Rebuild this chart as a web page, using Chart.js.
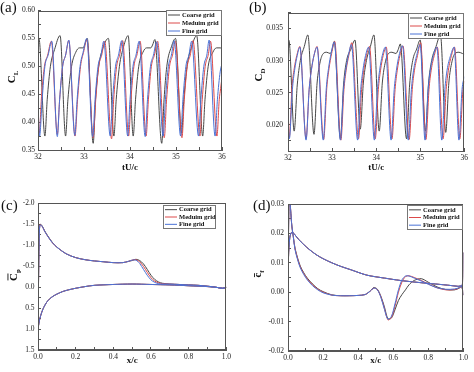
<!DOCTYPE html>
<html>
<head>
<meta charset="utf-8">
<script src="https://cdn.jsdelivr.net/npm/chart.js@4.4.1/dist/chart.umd.min.js"></script>
<style>
  html, body { margin: 0; padding: 0; background: #fff; }
  #fig { position: relative; width: 474px; height: 372px; overflow: hidden; font-family: "Liberation Serif", serif; }
  .panel { position: absolute; width: 237px; height: 186px; }
  .tag { position: absolute; font-size: 15px; line-height: 15px; color: #111; }
</style>
</head>
<body>
<div id="fig">
  <div class="panel" style="left:0;top:0"><canvas id="chartA"></canvas></div>
  <div class="panel" style="left:237px;top:0"><canvas id="chartB"></canvas></div>
  <div class="panel" style="left:0;top:186px"><canvas id="chartC"></canvas></div>
  <div class="panel" style="left:237px;top:186px"><canvas id="chartD"></canvas></div>
  <div class="tag" style="left:0;top:0">(a)</div>
  <div class="tag" style="left:249px;top:0">(b)</div>
  <div class="tag" style="left:1px;top:198px">(c)</div>
  <div class="tag" style="left:253px;top:198px">(d)</div>
</div>
<script>
// series names (legend order) - "Meduim" kept as in the figure
const seriesNames = ['Coarse grid', 'Meduim grid', 'Fine grid'];

// (a) lift coefficient vs tU/c
const clCoarseT = [32.00, 32.02, 32.15, 32.20, 32.27, 32.36, 32.48, 32.60, 32.65, 32.73, 32.82, 32.90, 32.98, 33.02, 33.07, 33.20, 33.25, 33.32, 33.42, 33.53, 33.65, 33.70, 33.77, 33.86, 33.96, 34.07, 34.12, 34.19, 34.28, 34.36, 34.45, 34.49, 34.54, 34.69, 34.74, 34.80, 34.90, 34.99, 35.12, 35.17, 35.24, 35.34, 35.45, 35.58, 35.63, 35.70, 35.80, 35.88, 35.96, 36.00];
const clCoarse = [0.545, 0.55, 0.375, 0.44, 0.50, 0.53, 0.555, 0.375, 0.44, 0.50, 0.525, 0.533, 0.533, 0.54, 0.55, 0.362, 0.44, 0.50, 0.535, 0.55, 0.375, 0.44, 0.50, 0.535, 0.555, 0.375, 0.44, 0.50, 0.525, 0.533, 0.533, 0.538, 0.548, 0.362, 0.44, 0.50, 0.535, 0.55, 0.38, 0.44, 0.50, 0.535, 0.555, 0.375, 0.44, 0.50, 0.525, 0.533, 0.533, 0.532];
const clMediumT = [32.00, 32.025, 32.08, 32.14, 32.21, 32.29, 32.42, 32.47, 32.535, 32.60, 32.67, 32.805, 32.86, 32.925, 32.99, 33.065, 33.20, 33.255, 33.32, 33.385, 33.45, 33.60, 33.645, 33.71, 33.775, 33.84, 33.97, 34.02, 34.085, 34.15, 34.22, 34.35, 34.40, 34.465, 34.53, 34.60, 34.745, 34.795, 34.86, 34.925, 34.985, 35.13, 35.18, 35.245, 35.31, 35.37, 35.52, 35.57, 35.635, 35.70, 35.75, 35.89, 35.94, 35.97, 36.00];
const clMedium = [0.415, 0.38, 0.45, 0.50, 0.52, 0.545, 0.378, 0.44, 0.50, 0.52, 0.546, 0.375, 0.44, 0.50, 0.525, 0.548, 0.372, 0.44, 0.50, 0.52, 0.545, 0.37, 0.44, 0.50, 0.52, 0.546, 0.375, 0.44, 0.50, 0.52, 0.545, 0.375, 0.44, 0.50, 0.52, 0.545, 0.372, 0.44, 0.50, 0.52, 0.545, 0.372, 0.44, 0.50, 0.52, 0.546, 0.375, 0.44, 0.50, 0.52, 0.545, 0.375, 0.44, 0.46, 0.48];
const clFineT = [32.00, 32.035, 32.09, 32.15, 32.22, 32.30, 32.42, 32.47, 32.535, 32.60, 32.67, 32.80, 32.85, 32.915, 32.98, 33.06, 33.19, 33.24, 33.305, 33.37, 33.43, 33.57, 33.62, 33.685, 33.75, 33.82, 33.95, 34.00, 34.065, 34.13, 34.20, 34.33, 34.38, 34.445, 34.51, 34.58, 34.72, 34.77, 34.835, 34.90, 34.96, 35.10, 35.15, 35.215, 35.28, 35.34, 35.49, 35.54, 35.605, 35.67, 35.72, 35.85, 35.90, 35.96, 36.00];
const clFine = [0.43, 0.375, 0.44, 0.50, 0.52, 0.545, 0.374, 0.44, 0.50, 0.52, 0.547, 0.376, 0.44, 0.50, 0.525, 0.55, 0.374, 0.44, 0.50, 0.52, 0.545, 0.375, 0.44, 0.50, 0.52, 0.546, 0.375, 0.44, 0.50, 0.52, 0.545, 0.374, 0.44, 0.50, 0.52, 0.544, 0.375, 0.44, 0.50, 0.52, 0.546, 0.375, 0.44, 0.50, 0.52, 0.545, 0.375, 0.44, 0.50, 0.52, 0.547, 0.375, 0.44, 0.49, 0.505];

// (b) drag coefficient vs tU/c
const cdCoarseT = [32.00, 32.02, 32.14, 32.21, 32.28, 32.37, 32.45, 32.59, 32.66, 32.73, 32.80, 32.88, 32.96, 33.00, 33.05, 33.19, 33.26, 33.33, 33.43, 33.52, 33.64, 33.71, 33.78, 33.87, 33.95, 34.07, 34.14, 34.21, 34.28, 34.36, 34.45, 34.50, 34.55, 34.69, 34.76, 34.83, 34.92, 35.00, 35.12, 35.19, 35.26, 35.36, 35.46, 35.58, 35.65, 35.72, 35.79, 35.88, 35.96, 36.00];
const cdCoarse = [0.0330, 0.0332, 0.0190, 0.0262, 0.0300, 0.0322, 0.0340, 0.0185, 0.0265, 0.0298, 0.0311, 0.0313, 0.0311, 0.0317, 0.0330, 0.0178, 0.0262, 0.0300, 0.0318, 0.0332, 0.0193, 0.0265, 0.0300, 0.0322, 0.0340, 0.0190, 0.0265, 0.0298, 0.0311, 0.0313, 0.0311, 0.0317, 0.0326, 0.0178, 0.0262, 0.0300, 0.0318, 0.0332, 0.0190, 0.0265, 0.0300, 0.0322, 0.0340, 0.0188, 0.0265, 0.0298, 0.0311, 0.0313, 0.0311, 0.0310];
const cdMediumT = [32.00, 32.03, 32.09, 32.14, 32.20, 32.27, 32.41, 32.48, 32.53, 32.59, 32.66, 32.81, 32.88, 32.93, 32.99, 33.06, 33.20, 33.27, 33.32, 33.38, 33.45, 33.60, 33.67, 33.72, 33.78, 33.85, 33.98, 34.05, 34.10, 34.16, 34.23, 34.36, 34.43, 34.48, 34.54, 34.61, 34.75, 34.82, 34.87, 34.94, 35.01, 35.13, 35.20, 35.25, 35.32, 35.39, 35.52, 35.59, 35.64, 35.71, 35.78, 35.90, 35.97, 36.00];
const cdMedium = [0.0225, 0.0180, 0.0258, 0.0287, 0.0308, 0.0322, 0.0178, 0.0255, 0.0285, 0.0308, 0.0322, 0.0177, 0.0257, 0.0287, 0.0311, 0.0330, 0.0176, 0.0255, 0.0285, 0.0308, 0.0328, 0.0178, 0.0255, 0.0285, 0.0308, 0.0322, 0.0178, 0.0255, 0.0285, 0.0308, 0.0321, 0.0178, 0.0255, 0.0285, 0.0308, 0.0323, 0.0177, 0.0255, 0.0285, 0.0308, 0.0328, 0.0177, 0.0255, 0.0285, 0.0308, 0.0321, 0.0178, 0.0255, 0.0285, 0.0308, 0.0321, 0.0178, 0.0255, 0.0268];
const cdFineT = [32.00, 32.03, 32.10, 32.15, 32.21, 32.27, 32.41, 32.48, 32.53, 32.59, 32.66, 32.80, 32.87, 32.92, 32.98, 33.05, 33.19, 33.26, 33.31, 33.37, 33.44, 33.58, 33.65, 33.70, 33.76, 33.83, 33.96, 34.03, 34.08, 34.14, 34.21, 34.34, 34.41, 34.46, 34.52, 34.60, 34.73, 34.80, 34.85, 34.92, 35.00, 35.11, 35.18, 35.23, 35.30, 35.38, 35.49, 35.56, 35.61, 35.69, 35.77, 35.88, 35.95, 36.00];
const cdFine = [0.0200, 0.0178, 0.0255, 0.0285, 0.0308, 0.0321, 0.0176, 0.0255, 0.0285, 0.0308, 0.0321, 0.0176, 0.0258, 0.0288, 0.0312, 0.0329, 0.0176, 0.0255, 0.0285, 0.0308, 0.0325, 0.0176, 0.0255, 0.0285, 0.0308, 0.0321, 0.0176, 0.0255, 0.0285, 0.0308, 0.0321, 0.0176, 0.0255, 0.0285, 0.0308, 0.0323, 0.0176, 0.0255, 0.0285, 0.0308, 0.0325, 0.0176, 0.0255, 0.0285, 0.0308, 0.0321, 0.0176, 0.0255, 0.0285, 0.0308, 0.0321, 0.0176, 0.0255, 0.0275];

// (c) mean pressure coefficient vs x/c, suction side then pressure side
const cpUpperX = [0, 0.003, 0.006, 0.01, 0.02, 0.035, 0.05, 0.075, 0.1, 0.15, 0.2, 0.25, 0.3, 0.35, 0.4, 0.45, 0.48, 0.5, 0.52, 0.54, 0.56, 0.58, 0.6, 0.62, 0.64, 0.66, 0.7, 0.75, 0.8, 0.85, 0.9, 0.95, 0.98, 1.0];
const cpUpperCoarse = [1.0, -0.2, -1.05, -1.49, -1.47, -1.34, -1.23, -1.07, -0.95, -0.79, -0.70, -0.65, -0.62, -0.60, -0.58, -0.58, -0.61, -0.63, -0.66, -0.63, -0.55, -0.42, -0.28, -0.18, -0.12, -0.09, -0.07, -0.06, -0.05, -0.04, -0.02, 0.01, 0.03, 0.01];
const cpUpperMedium = [1.0, -0.2, -1.05, -1.48, -1.46, -1.33, -1.22, -1.06, -0.95, -0.79, -0.70, -0.65, -0.62, -0.60, -0.58, -0.58, -0.61, -0.64, -0.65, -0.60, -0.49, -0.35, -0.22, -0.14, -0.10, -0.08, -0.07, -0.06, -0.05, -0.04, -0.02, 0.01, 0.03, 0.01];
const cpUpperFine = [1.0, -0.2, -1.05, -1.47, -1.46, -1.33, -1.22, -1.06, -0.95, -0.79, -0.70, -0.65, -0.62, -0.60, -0.58, -0.58, -0.61, -0.64, -0.64, -0.56, -0.42, -0.28, -0.17, -0.11, -0.08, -0.07, -0.07, -0.06, -0.05, -0.04, -0.02, 0.01, 0.03, 0.01];
const cpLowerX = [0, 0.005, 0.01, 0.02, 0.03, 0.045, 0.06, 0.08, 0.1, 0.13, 0.16, 0.2, 0.25, 0.3, 0.4, 0.5, 0.6, 0.7, 0.8, 0.9, 0.95, 0.98, 1.0];
const cpLower = [1.0, 0.86, 0.75, 0.60, 0.49, 0.37, 0.29, 0.22, 0.17, 0.11, 0.07, 0.03, -0.01, -0.04, -0.06, -0.07, -0.06, -0.05, -0.03, -0.01, 0.01, 0.03, 0.01];

// (d) mean skin friction coefficient vs x/c
const cfUpperX = [0, 0.004, 0.008, 0.015, 0.022, 0.03, 0.04, 0.055, 0.07, 0.09, 0.11, 0.14, 0.17, 0.2, 0.25, 0.3, 0.35, 0.4, 0.44, 0.47, 0.49, 0.51, 0.53, 0.55, 0.57, 0.59, 0.61, 0.63, 0.65, 0.67, 0.69, 0.72, 0.76, 0.8, 0.85, 0.9, 0.95, 0.98, 0.995, 1.0];
const cfUpperCoarse = [0.0, 0.025, 0.034, 0.028, 0.0225, 0.019, 0.0150, 0.0116, 0.0089, 0.0066, 0.0048, 0.0028, 0.0012, 0.0002, -0.0009, -0.0012, -0.0012, -0.0011, -0.0008, 0.0005, 0.0016, 0.0010, -0.0014, -0.0050, -0.0090, -0.0088, -0.0060, -0.0028, -0.0008, 0.0008, 0.0025, 0.0040, 0.0046, 0.0034, 0.0018, 0.0009, 0.0008, 0.0015, 0.0026, 0.0135];
const cfUpperMedium = [0.0, 0.025, 0.034, 0.028, 0.0225, 0.019, 0.0148, 0.0113, 0.0086, 0.0063, 0.0045, 0.0025, 0.0010, 0.0000, -0.0010, -0.0012, -0.0012, -0.0011, -0.0008, 0.0004, 0.0014, 0.0008, -0.0016, -0.0056, -0.0094, -0.0086, -0.0048, 0.0000, 0.0035, 0.0053, 0.0056, 0.0050, 0.0040, 0.0028, 0.0015, 0.0008, 0.0009, 0.0016, 0.0027, 0.0135];
const cfUpperFine = [0.0, 0.025, 0.034, 0.028, 0.0225, 0.019, 0.0145, 0.0110, 0.0083, 0.0060, 0.0042, 0.0022, 0.0008, -0.0002, -0.0010, -0.0012, -0.0012, -0.0011, -0.0008, 0.0004, 0.0014, 0.0008, -0.0018, -0.0058, -0.0092, -0.0082, -0.0040, 0.0008, 0.0042, 0.0055, 0.0055, 0.0048, 0.0038, 0.0027, 0.0015, 0.0010, 0.0011, 0.0017, 0.0028, 0.0135];
const cfLowerX = [0, 0.003, 0.01, 0.018, 0.026, 0.04, 0.06, 0.09, 0.12, 0.16, 0.2, 0.25, 0.3, 0.36, 0.45, 0.55, 0.64, 0.73, 0.82, 0.91, 0.97, 0.99, 1.0];
const cfLower = [-0.009, 0.012, 0.0185, 0.0202, 0.0204, 0.0195, 0.0180, 0.0162, 0.0146, 0.0128, 0.0114, 0.0100, 0.0088, 0.0076, 0.0058, 0.0048, 0.0040, 0.0034, 0.0029, 0.0024, 0.0020, 0.0020, -0.001];

// tick values (major ones get a label)
const timeTicks = [32, 32.5, 33, 33.5, 34, 34.5, 35, 35.5, 36];
const timeMajor = [32, 33, 34, 35, 36];
const clTicks = [0.35, 0.375, 0.40, 0.425, 0.45, 0.475, 0.50, 0.525, 0.55, 0.575, 0.60];
const clMajor = [0.35, 0.40, 0.45, 0.50, 0.55, 0.60];
const cdTicks = [0.0175, 0.020, 0.0225, 0.025, 0.0275, 0.030, 0.0325, 0.035, 0.0375];
const cdMajor = [0.020, 0.025, 0.030, 0.035];
const chordTicks = [0, 0.1, 0.2, 0.3, 0.4, 0.5, 0.6, 0.7, 0.8, 0.9, 1.0];
const chordMajor = [0, 0.2, 0.4, 0.6, 0.8, 1.0];
const cpTicks = [-2.0, -1.75, -1.5, -1.25, -1.0, -0.75, -0.5, -0.25, 0, 0.25, 0.5, 0.75, 1.0, 1.25, 1.5];
const cpMajor = [-2.0, -1.5, -1.0, -0.5, 0, 0.5, 1.0, 1.5];
const cfTicks = [-0.02, -0.015, -0.01, -0.005, 0, 0.005, 0.01, 0.015, 0.02, 0.025, 0.03];
const cfMajor = [-0.02, -0.01, 0, 0.01, 0.02, 0.03];

const lineColors = ['#474747', '#dc4a4a', '#4a72d6'];
const SERIF = '"Liberation Serif", "Times New Roman", serif';
Chart.defaults.font.family = SERIF;
Chart.defaults.color = '#222';

function pts(xs, ys) {
  return xs.map((x, i) => ({ x: x, y: ys[i] }));
}
// suction side run backwards to the leading edge, then pressure side to the trailing edge
function loop(xa, ya, xb, yb) {
  return pts(xa, ya).reverse().concat(pts(xb, yb));
}

// frame round the plot area
const framePlugin = {
  id: 'frame',
  afterDatasetsDraw(chart) {
    const a = chart.chartArea, ctx = chart.ctx;
    ctx.save();
    ctx.strokeStyle = '#555';
    ctx.lineWidth = 1;
    ctx.strokeRect(Math.round(a.left) + 0.5, Math.round(a.top) + 0.5, Math.round(a.right - a.left) - 1, Math.round(a.bottom - a.top) - 1);
    ctx.restore();
  }
};

// boxed legend in the top right corner of the plot
const gridLegendPlugin = {
  id: 'gridLegend',
  afterDraw(chart, args, o) {
    const a = chart.chartArea, ctx = chart.ctx;
    const right = Math.round(a.right - o.inset), top = Math.round(a.top + o.dy);
    const left = right - o.w;
    ctx.save();
    ctx.fillStyle = '#fff';
    ctx.fillRect(left, top, o.w, o.h);
    ctx.strokeStyle = '#777';
    ctx.lineWidth = 1;
    ctx.strokeRect(left + 0.5, top + 0.5, o.w - 1, o.h - 1);
    ctx.font = 'bold 6.5px ' + SERIF;
    ctx.textBaseline = 'middle';
    const rowH = (o.h - 2) / 3;
    chart.data.datasets.forEach((ds, i) => {
      const y = top + 1 + rowH * (i + 0.5);
      ctx.strokeStyle = ds.borderColor;
      ctx.beginPath();
      ctx.moveTo(left + 2, y);
      ctx.lineTo(left + 14, y);
      ctx.stroke();
      ctx.fillStyle = '#111';
      ctx.fillText(ds.label, left + 16, y);
    });
    ctx.restore();
  }
};

// rotated y title with subscript (and optional bar)
const yLabelPlugin = {
  id: 'yLabel',
  afterDraw(chart, args, o) {
    if (!o || !o.main) return;
    const ctx = chart.ctx;
    ctx.save();
    ctx.translate(o.x, o.y);
    ctx.rotate(-Math.PI / 2);
    ctx.fillStyle = '#111';
    ctx.font = 'bold 11px ' + SERIF;
    const w1 = ctx.measureText(o.main).width;
    ctx.font = 'bold 7px ' + SERIF;
    const w2 = ctx.measureText(o.sub).width;
    const x0 = -(w1 + w2) / 2;
    ctx.font = 'bold 11px ' + SERIF;
    ctx.fillText(o.main, x0, 4);
    if (o.barY) ctx.fillRect(x0 + 0.5, o.barY, w1 - 1, 0.9);
    ctx.font = 'bold 7px ' + SERIF;
    ctx.fillText(o.sub, x0 + w1, 6.5);
    ctx.restore();
  }
};

Chart.register(framePlugin, gridLegendPlugin, yLabelPlugin);

function makePanel(id, p) {
  const datasets = p.series.map((d, i) => Object.assign({
    label: seriesNames[i],
    data: d,
    borderColor: lineColors[i],
    borderWidth: 1,
    pointRadius: 0,
    fill: false,
    order: 2 - i
  }, p.curve));

  new Chart(document.getElementById(id), {
    type: 'line',
    data: { datasets: datasets },
    options: {
      animation: false,
      responsive: true,
      maintainAspectRatio: false,
      layout: { padding: { left: 0, right: p.padRight, top: p.padTop, bottom: 0 } },
      plugins: {
        legend: { display: false },
        tooltip: { enabled: false },
        gridLegend: p.legend,
        yLabel: p.yLabel
      },
      scales: {
        x: {
          type: 'linear',
          min: p.xMin,
          max: p.xMax,
          afterBuildTicks: s => { s.ticks = p.xTicks.map(v => ({ value: v })); },
          afterFit: s => { s.height = p.xHeight; },
          ticks: {
            autoSkip: false,
            maxRotation: 0,
            padding: 6,
            font: { size: 7.5 },
            color: '#222',
            callback: v => p.xMajor.indexOf(v) >= 0 ? p.xFmt(v) : ''
          },
          grid: { drawOnChartArea: false, tickLength: -3, color: '#555' },
          border: { color: '#555' },
          title: {
            display: true,
            text: p.xTitle,
            color: '#111',
            font: { size: 9, weight: 'bold' },
            padding: { top: 0, bottom: p.xTitlePad }
          }
        },
        y: {
          type: 'linear',
          min: p.yMin,
          max: p.yMax,
          reverse: !!p.yReverse,
          afterBuildTicks: s => { s.ticks = p.yTicks.map(v => ({ value: v })); },
          afterFit: s => { s.width = p.yWidth; },
          ticks: {
            autoSkip: false,
            padding: p.yPad,
            font: { size: 7.5 },
            color: '#222',
            callback: v => p.yMajor.indexOf(v) >= 0 ? p.yFmt(v) : ''
          },
          grid: { drawOnChartArea: false, tickLength: -3, color: '#555' },
          border: { color: '#555' }
        }
      }
    }
  });
}

const timeCurve = { cubicInterpolationMode: 'monotone' };
const chordCurve = { tension: 0.3 };

makePanel('chartA', {
  series: [pts(clCoarseT, clCoarse), pts(clMediumT, clMedium), pts(clFineT, clFine)],
  curve: timeCurve,
  xMin: 32, xMax: 36, xTicks: timeTicks, xMajor: timeMajor, xFmt: v => String(v),
  yMin: 0.35, yMax: 0.60, yTicks: clTicks, yMajor: clMajor, yFmt: v => v.toFixed(2),
  xTitle: 'tU/c', xTitlePad: 12.6, xHeight: 36, yWidth: 38, yPad: 6,
  padRight: 15, padTop: 5,
  legend: { inset: 0, dy: -1, w: 56, h: 26 },
  yLabel: { x: 11, y: 77, main: 'C', sub: 'L' }
});

makePanel('chartB', {
  series: [pts(cdCoarseT, cdCoarse), pts(cdMediumT, cdMedium), pts(cdFineT, cdFine)],
  curve: timeCurve,
  xMin: 32, xMax: 36, xTicks: timeTicks, xMajor: timeMajor, xFmt: v => String(v),
  yMin: 0.0159, yMax: 0.0375, yTicks: cdTicks, yMajor: cdMajor, yFmt: v => v.toFixed(3),
  xTitle: 'tU/c', xTitlePad: 12.6, xHeight: 35, yWidth: 51, yPad: 8,
  padRight: 4, padTop: 4,
  legend: { inset: 0, dy: 0, w: 56, h: 26 },
  yLabel: { x: 21, y: 75, main: 'C', sub: 'D' }
});

makePanel('chartC', {
  series: [
    loop(cpUpperX, cpUpperCoarse, cpLowerX, cpLower),
    loop(cpUpperX, cpUpperMedium, cpLowerX, cpLower),
    loop(cpUpperX, cpUpperFine, cpLowerX, cpLower)
  ],
  curve: chordCurve,
  xMin: 0, xMax: 1, xTicks: chordTicks, xMajor: chordMajor, xFmt: v => v.toFixed(1),
  yMin: -2.0, yMax: 1.5, yReverse: true, yTicks: cpTicks, yMajor: cpMajor, yFmt: v => v.toFixed(1),
  xTitle: 'x/c', xTitlePad: 6, xHeight: 22, yWidth: 38, yPad: 6.5,
  padRight: 8, padTop: 17,
  legend: { inset: 10, dy: 2, w: 53, h: 24 },
  yLabel: { x: 13, y: 89, main: 'C', sub: 'p', barY: -5.5 }
});

makePanel('chartD', {
  series: [
    loop(cfUpperX, cfUpperCoarse, cfLowerX, cfLower),
    loop(cfUpperX, cfUpperMedium, cfLowerX, cfLower),
    loop(cfUpperX, cfUpperFine, cfLowerX, cfLower)
  ],
  curve: chordCurve,
  xMin: 0, xMax: 1, xTicks: chordTicks, xMajor: chordMajor, xFmt: v => v.toFixed(1),
  yMin: -0.02, yMax: 0.03, yTicks: cfTicks, yMajor: cfMajor, yFmt: v => v.toFixed(2),
  xTitle: 'x/c', xTitlePad: 6, xHeight: 21, yWidth: 51, yPad: 7,
  padRight: 4, padTop: 18,
  legend: { inset: 0, dy: 1, w: 56, h: 25 },
  yLabel: { x: 20, y: 88, main: 'c', sub: 'f', barY: -3 }
});
</script>
</body>
</html>
